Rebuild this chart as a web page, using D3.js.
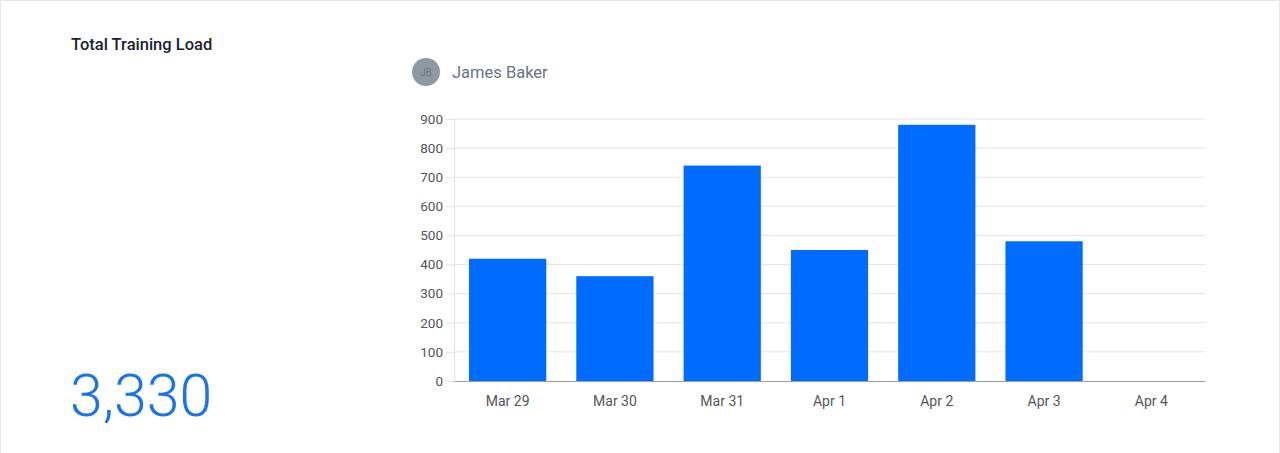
<!DOCTYPE html>
<html>
<head>
<meta charset="utf-8">
<script src="https://cdn.jsdelivr.net/npm/d3@7"></script>
<style>
  html, body { margin: 0; padding: 0; background: #fff; }
  body { width: 1280px; height: 453px; overflow: hidden; font-family: Roboto, "Open Sans", sans-serif; }
  #card { position: absolute; left: 0; top: 0; width: 1278px; height: 460px; border: 1px solid #e6e6e6; }
  svg { position: absolute; left: 0; top: 0; }
</style>
</head>
<body>
<div id="card"></div>
<div id="chart"></div>
<script>
// values
const days = ["Mar 29", "Mar 30", "Mar 31", "Apr 1", "Apr 2", "Apr 3", "Apr 4"];
const loads = [420, 360, 740, 450, 880, 480, 0];
const yTicks = [0, 100, 200, 300, 400, 500, 600, 700, 800, 900];
const athlete = "James Baker";
const initials = "JB";

const svg = d3.select("#chart").append("svg")
  .attr("width", 1280)
  .attr("height", 453);

// left panel
svg.append("text")
  .attr("x", 71).attr("y", 50)
  .style("font-size", "16.5px")
  .style("font-weight", 500)
  .style("fill", "#1b1f2e")
  .text("Total Training Load");

svg.append("text")
  .attr("x", 70).attr("y", 416)
  .style("font-size", "59px")
  .style("font-weight", 300)
  .style("fill", "#1a73e8")
  .text(d3.format(",")(d3.sum(loads)));

// athlete label
svg.append("circle")
  .attr("cx", 426).attr("cy", 72).attr("r", 14)
  .attr("fill", "#8f99a3");
svg.append("text")
  .attr("x", 426).attr("y", 76)
  .attr("text-anchor", "middle")
  .style("font-size", "10px")
  .style("fill", "#6f7780")
  .text(initials);
svg.append("text")
  .attr("x", 452).attr("y", 78)
  .style("font-size", "16.5px")
  .style("fill", "#6b7280")
  .text(athlete);

// chart
const margin = { left: 454, right: 1205, top: 119, bottom: 381 };

const x = d3.scaleBand()
  .domain(days)
  .range([margin.left, margin.right])
  .paddingInner(0.28)
  .paddingOuter(0.14);

const y = d3.scaleLinear()
  .domain([0, 900])
  .range([margin.bottom, margin.top]);

// grid lines
svg.append("g")
  .selectAll("line")
  .data(yTicks.slice(1))
  .join("line")
  .attr("x1", margin.left).attr("x2", margin.right)
  .attr("y1", d => y(d)).attr("y2", d => y(d))
  .attr("stroke", "#e3e3e3");

// y axis
const yAxis = svg.append("g")
  .attr("transform", `translate(${margin.left},0)`)
  .call(d3.axisLeft(y).tickValues(yTicks).tickSize(8).tickPadding(3));
yAxis.select(".domain").attr("stroke", "#e3e3e3");
yAxis.selectAll(".tick line").attr("stroke", "#e3e3e3");
yAxis.selectAll(".tick text")
  .style("font-family", "Roboto, sans-serif")
  .style("font-size", "13.5px")
  .style("fill", "#555");

// bars
svg.append("g")
  .selectAll("rect")
  .data(days.map((d, i) => ({ day: d, value: loads[i] })))
  .join("rect")
  .attr("x", d => x(d.day))
  .attr("y", d => y(d.value))
  .attr("width", x.bandwidth())
  .attr("height", d => y(0) - y(d.value))
  .attr("fill", "#006cff");

// x axis
const xAxis = svg.append("g")
  .attr("transform", `translate(0,${margin.bottom})`)
  .call(d3.axisBottom(x).tickSize(0).tickPadding(15));
xAxis.select(".domain").attr("stroke", "#9e9e9e");
xAxis.selectAll(".tick text")
  .style("font-family", "Roboto, sans-serif")
  .style("font-size", "14px")
  .style("fill", "#555");
</script>
</body>
</html>
